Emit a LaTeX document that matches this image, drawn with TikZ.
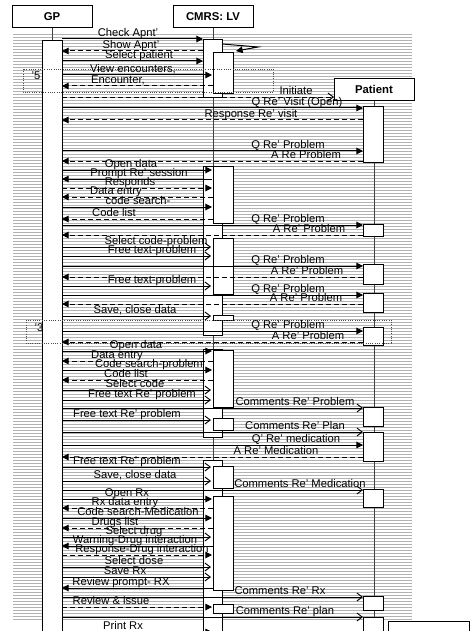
\documentclass[tikz,border=0pt]{standalone}
\usepackage{fontspec}
\setmainfont{Liberation Sans}
\usetikzlibrary{arrows.meta}

\begin{document}
\begin{tikzpicture}[
    x=0.75pt, y=-0.75pt,
    font=\fontsize{8.4}{9}\selectfont,
    lifebox/.style={rectangle, draw, fill=white, line width=0.7pt, minimum width=60pt, minimum height=16.5pt, font=\fontsize{8.5}{9}\selectfont\bfseries},
    actbar/.style={draw, fill=white, line width=0.7pt},
    lifeline/.style={draw=black!75, line width=0.7pt},
    hatch/.style={gray!60, line width=0.45pt},
    fragbox/.style={draw=black!70, densely dotted, line width=0.7pt},
    call/.style={-{Triangle[length=5pt,width=5pt]}, line width=0.75pt},
    reply/.style={call, dash pattern=on 3.5pt off 2.5pt},
    async/.style={-{Straight Barb[length=4pt,width=6pt]}, line width=0.7pt},
    dasync/.style={async, dash pattern=on 3.5pt off 2.5pt},
    lbl/.style={anchor=base, inner sep=0pt},
]
    \useasboundingbox (0,0) rectangle (474,631);
    \clip (0,0) rectangle (474,631);

    % Background
    \foreach \h in {34,37,...,619}
        \draw[hatch] (13,\h) -- (412,\h);

    % Nodes
    \node[lifebox] (gp)   at (52,16.5)  {GP};
    \node[lifebox] (cmrs) at (213,16.5) {CMRS: LV};
    \node[lifebox] (pat)  at (374,89.5) {Patient};
    \node[lifebox, anchor=north west, minimum width=61pt, minimum height=30pt] (nextbox) at (388,621) {};

    % Lifelines
    \coordinate (gpTop)    at (52,40);
    \coordinate (cmrsEnd)  at (213,640);
    \coordinate (patEnd)   at (374,640);
    \draw[lifeline] (gp.south) -- (gpTop);
    \draw[lifeline] (cmrs.south) -- (cmrsEnd);
    \draw[lifeline] (pat.south) -- (patEnd);

    % Activation bars
    \draw[actbar] (42,40) rectangle (62,640);
    \foreach \a/\b in {39/97, 166/335, 349/437, 460/640}
        \draw[actbar] (203,\a) rectangle (222,\b);
    \foreach \a/\b in {52/93, 166/223, 238/294, 315/320, 350/407, 418/430, 466/488, 496/590, 604/613}
        \draw[actbar] (213,\a) rectangle (233,\b);
    \foreach \a/\b in {106/162, 224/236, 264/284, 293/312, 327/345, 407/426, 432/461, 489/507, 596/610, 617/640}
        \draw[actbar] (363,\a) rectangle (383,\b);

    % Fragments
    \draw[fragbox] (23,69) rectangle (273,92);
    \node (frag5) at (36,76) {'5};
    \draw[fragbox] (26,320) rectangle (391,343);
    \node (frag3) at (39,328) {'3};

    % Self message
    \coordinate (selfA) at (222,44);
    \coordinate (selfB) at (258,47);
    \coordinate (selfC) at (236,51);
    \draw[call] (selfA) -- (selfB) -- (selfC);

    % Messages
    \foreach \y/\a/\b/\lx/\txt/\sty [count=\i] in {
        39/62/203/128/{Check Apnt'}/call,
        51/203/62/131/{Show Apnt'}/reply,
        61/62/203/139/{Select patient}/call,
        75/62/212/133/{View encounters,}/call,
        86/213/62/118/{Encounter,}/reply,
        97/62/334/296/{Initiate}/dasync,
        108/62/363/297/{Q Re' Visit (Open)}/call,
        120/363/62/251/{Response Re' visit}/reply,
        151/62/363/288/{Q Re' Problem}/call,
        161/363/62/306/{A Re Problem}/reply,
        170/62/212/131/{Open data}/call,
        179/212/62/139/{Prompt Re' session}/call,
        188/62/212/130/{Responds}/reply,
        197/213/62/116/{Data entry}/reply,
        207/62/212/138/{code search-}/call,
        219/213/62/114/{Code list}/reply,
        225/62/363/288/{Q Re' Problem}/call,
        235/363/62/309/{A Re' Problem}/reply,
        247/62/211/156/{Select code-problem}/async,
        256/62/211/152/{Free text-problem}/async,
        266/62/363/288/{Q Re' Problem}/call,
        277/363/62/307/{A Re' Problem}/reply,
        286/62/211/152/{Free text-problem}/async,
        295/62/363/288/{Q Re' Problem}/call,
        304/363/62/306/{A Re' Problem}/reply,
        316/62/211/135/{Save, close data}/async,
        331/62/363/288/{Q Re' Problem}/call,
        342/363/62/308/{A Re' Problem}/reply,
        351/62/212/136/{Open data}/call,
        361/213/62/117/{Data entry}/reply,
        370/62/212/149/{Code search-problem}/call,
        380/213/62/126/{Code list}/reply,
        390/62/211/135/{Select code}/async,
        400/62/211/142/{Free text Re' problem}/async,
        408/62/363/295/{Comments Re' Problem}/async,
        420/62/211/127/{Free text Re' problem}/async,
        432/62/363/295/{Comments Re' Plan}/async,
        445/62/363/296/{Q' Re' medication}/call,
        457/363/62/276/{A Re' Medication}/reply,
        467/62/211/127/{Free text Re' problem}/async,
        481/62/211/135/{Save, close data}/async,
        490/62/363/300/{Comments Re' Medication}/async,
        499/62/212/127/{Open Rx}/call,
        508/213/62/125/{Rx data entry}/reply,
        518/62/212/138/{Code search-Medication}/call,
        528/213/62/115/{Drugs list}/reply,
        537/62/211/134/{Select drug}/async,
        546/213/62/135/{Warning-Drug interaction}/call,
        555/62/212/142/{Response-Drug interaction}/reply,
        567/62/211/134/{Select dose}/async,
        577/62/211/125/{Save Rx}/async,
        588/213/62/121/{Review prompt- RX}/call,
        597/62/363/280/{Comments Re' Rx}/async,
        607/62/212/111/{Review \& issue}/reply,
        617/62/363/285/{Comments Re' plan}/async,
        632/62/212/123/{Print Rx}/call}
    {
        \coordinate (s\i) at (\a,\y);
        \coordinate (t\i) at (\b,\y);
        \draw[\sty] (s\i) -- (t\i);
        \node[lbl] (l\i) at (\lx,\y-2.5) {\txt};
    }
\end{tikzpicture}
\end{document}
